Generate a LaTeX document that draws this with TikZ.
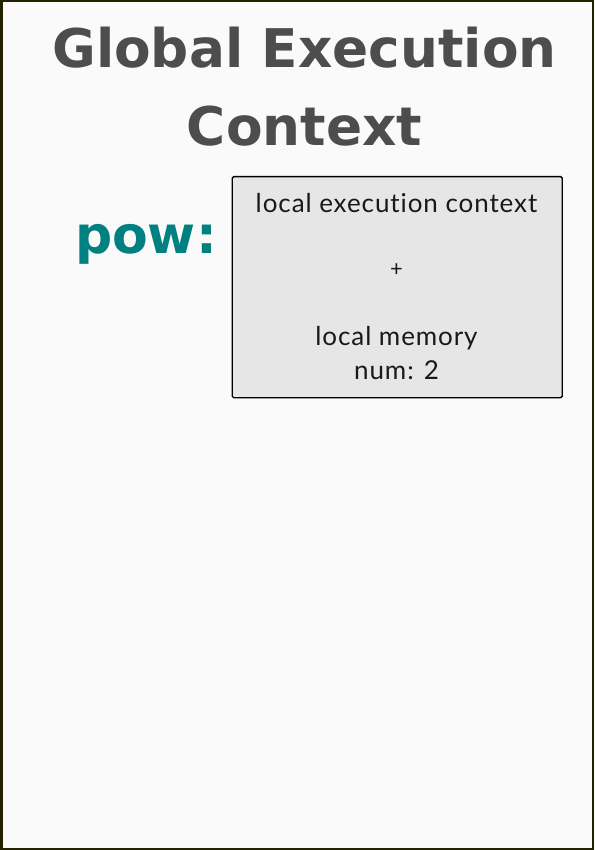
\documentclass[tikz,border=0pt]{standalone}
\usepackage{fontspec}
\setmainfont{DejaVu Sans}
\newfontfamily\boxfont{Lato}[Ligatures={NoCommon}, LetterSpace=3.5]
\definecolor{titlegray}{HTML}{4D4D4D}
\definecolor{teal}{HTML}{008080}
\definecolor{framecol}{HTML}{222200}
\definecolor{pagebg}{HTML}{FAFAFA}
\definecolor{boxfill}{HTML}{E6E6E6}
\tikzset{
  titletxt/.style={font=\fontsize{53.3}{79}\selectfont\bfseries, text=titlegray, align=center, inner sep=0pt},
  labeltxt/.style={font=\fontsize{52}{60}\selectfont\bfseries, text=teal, inner sep=0pt, anchor=base east},
  boxtxt/.style={font=\boxfont\fontsize{26}{30}\selectfont, text=black!90, inner sep=0pt, anchor=base},
  ctxbox/.style={draw=black, fill=boxfill, line width=1.4pt, rounded corners=1.5pt, minimum width=330pt, minimum height=221pt, inner sep=0pt}
}
\begin{document}
\begin{tikzpicture}[x=1pt,y=-1pt]
\useasboundingbox (0,0) rectangle (594,850);
\draw[framecol, fill=pagebg, line width=2.5pt] (1.25,1.25) rectangle (592.75,848.75);
\node[titletxt, anchor=base] (t1) at (304.5,68) {Global Execution};
\node[titletxt, anchor=base] (t2) at (304.5,146) {Context};
\node[labeltxt] (pow) at (217,253) {pow:};
\node[ctxbox, anchor=north west] (box) at (231.5,176) {};
\node[boxtxt] (l1) at (396.5,212) {local execution context};
\node[boxtxt, font=\boxfont\fontsize{22}{24}\selectfont] (plus) at (396.5,276) {+};
\node[boxtxt] (l2) at (396.5,345) {local memory};
\node[boxtxt] (l3) at (396.5,379) {num: 2};
\end{tikzpicture}
\end{document}
